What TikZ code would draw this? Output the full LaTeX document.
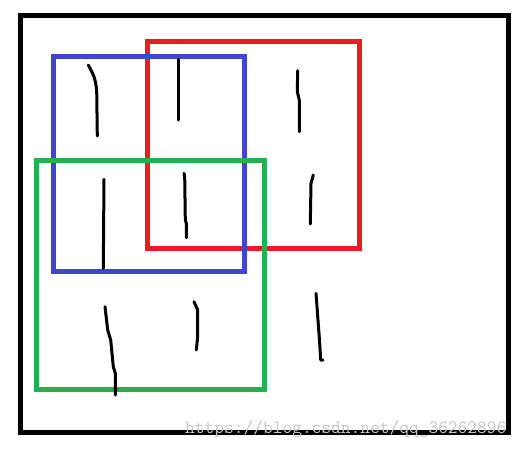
\documentclass[tikz,border=0pt]{standalone}
\usetikzlibrary{positioning}

\definecolor{paintred}{RGB}{237,28,36}
\definecolor{paintblue}{RGB}{63,72,204}
\definecolor{paintgreen}{RGB}{34,177,76}

\begin{document}
\begin{tikzpicture}[
    x=1pt, y=-1pt,
    frame/.style={draw=black, line width=5pt},
    box/.style={line width=5pt},
    stroke/.style={draw=black, line width=3pt, line cap=round, line join=round},
    mark text/.style={text=black!22, font=\fontsize{18.9}{20}\ttfamily, inner sep=0pt, anchor=base west},
]
    \useasboundingbox (0,0) rectangle (525,448);

    \draw[frame] (20.5,15.5) rectangle (508,432.5);

    \draw[box, draw=paintred] (147,41.7) rectangle (359.7,248.3);
    \draw[box, draw=paintblue] (53,56.5) rectangle (244,271);
    \draw[box, draw=paintgreen] (36.5,160.3) rectangle (264,389);

    % strokes, top row
    \draw[stroke] (88.3,65) .. controls (95,78) .. (96.7,90) -- (97.3,136);
    \draw[stroke] (178.3,59.3) -- (178.3,120);
    \draw[stroke] (297.7,70.7) -- (297.3,91.7) -- (299.3,100) -- (299.3,131.7);

    % strokes, middle row
    \draw[stroke] (104,179.3) -- (103.3,268.3);
    \draw[stroke] (184,173.3) -- (184.7,176.7) -- (185.3,220) -- (186.3,223.3) -- (186.3,237.7);
    \draw[stroke] (313.3,175) -- (311,183.3) -- (310.3,224);

    % strokes, bottom row
    \draw[stroke] (105,306.7) -- (107.7,330) -- (110.7,340) -- (113.3,366.7) -- (115.3,373.3) -- (115.3,395);
    \draw[stroke] (194,301.7) -- (197.7,310) -- (197.7,336.7) -- (196.3,350);
    \draw[stroke] (316,293.3) -- (319.7,343.3) -- (320.7,360) -- (323,360);

    \node[mark text] (wm) at (185,433) {https://blog.csdn.net/qq\_36262896};
\end{tikzpicture}
\end{document}
